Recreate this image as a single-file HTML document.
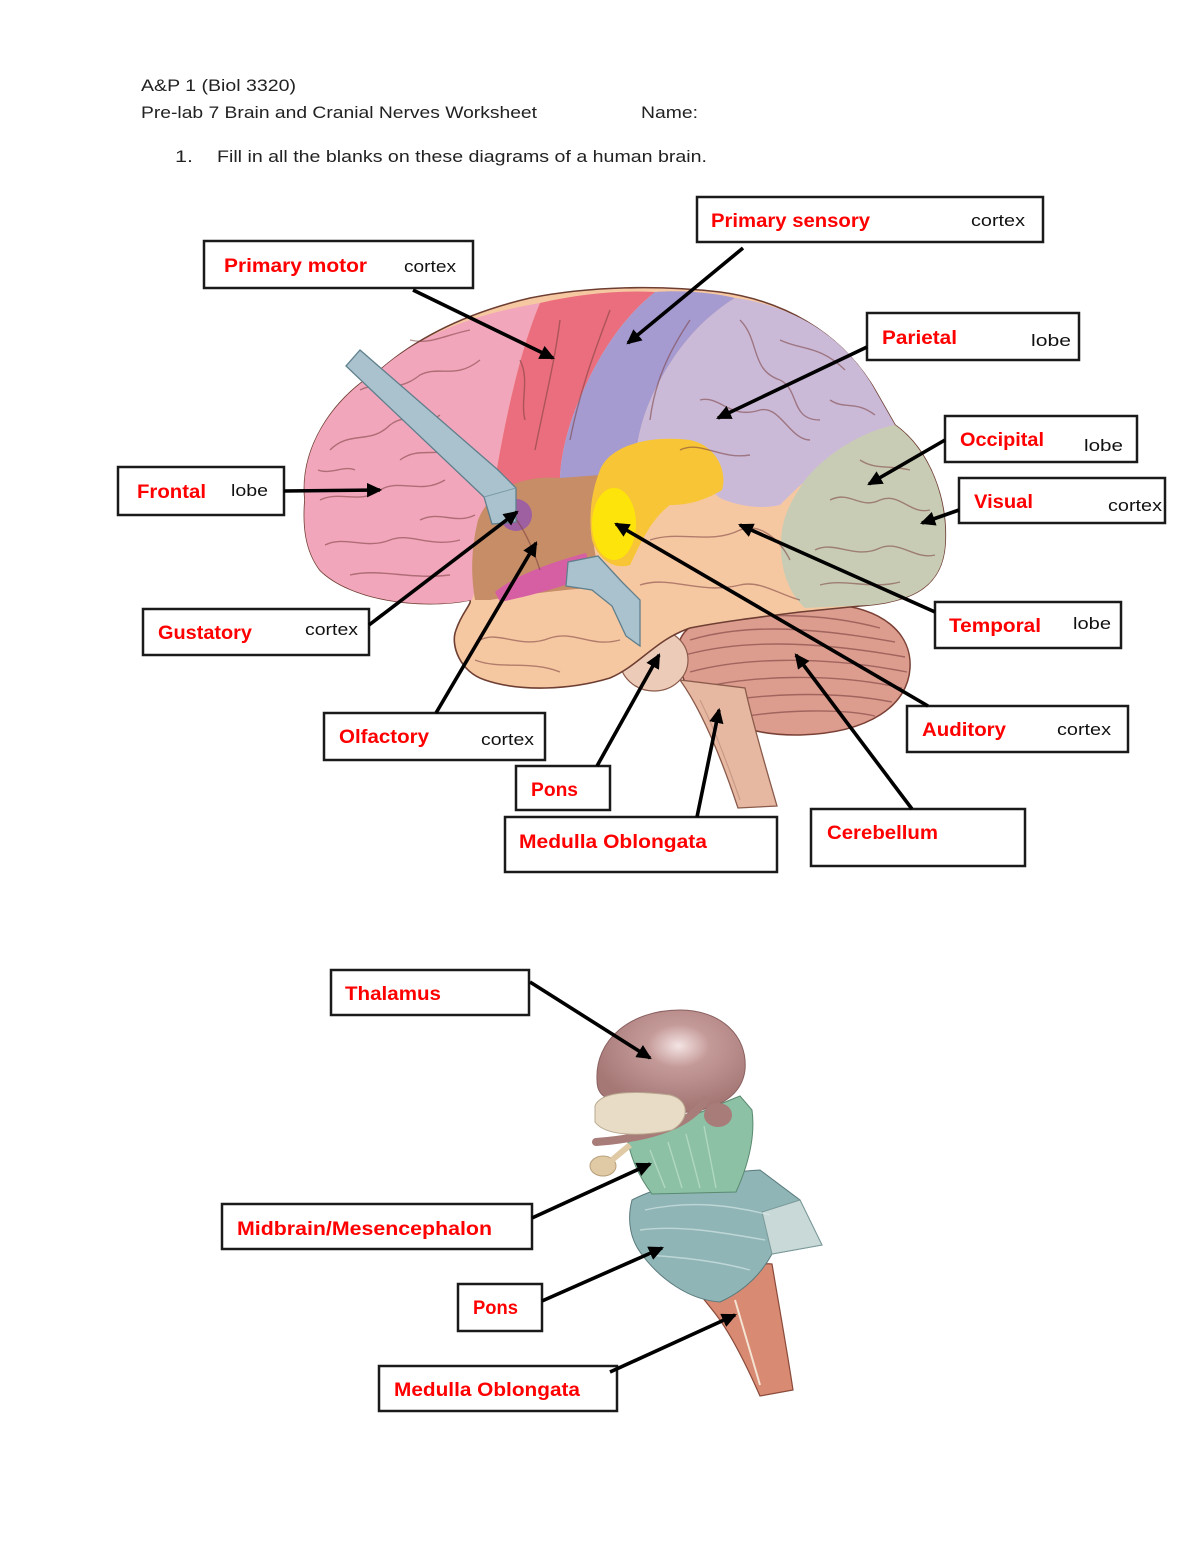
<!DOCTYPE html>
<html><head><meta charset="utf-8"><style>
html,body{margin:0;padding:0;background:#fff;}
svg{display:block;}
.h{font-family:"Liberation Sans",sans-serif;font-size:17px;fill:#222;}
.r{font-family:"Liberation Sans",sans-serif;font-size:19px;font-weight:bold;fill:#f00;}
.k{font-family:"Liberation Sans",sans-serif;font-size:17px;fill:#111;}
.box{fill:#fff;stroke:#1a1a1a;stroke-width:2.5;}
.ar{stroke:#000;stroke-width:3.6;fill:none;marker-end:url(#ah);}
.sul{fill:none;stroke:#7a3f3f;stroke-width:1.4;opacity:.55;}
</style></head><body>
<svg width="1200" height="1553" viewBox="0 0 1200 1553" xmlns="http://www.w3.org/2000/svg">
<defs>
<marker id="ah" markerWidth="4.2" markerHeight="4" refX="3.6" refY="2" orient="auto" markerUnits="strokeWidth">
<path d="M0,0 L4.2,2 L0,4 z" fill="#000"/>
</marker>
<radialGradient id="thg" cx="0.55" cy="0.35" r="0.6">
<stop offset="0" stop-color="#f4e4e4"/><stop offset="0.35" stop-color="#c49a98"/><stop offset="1" stop-color="#a57876"/>
</radialGradient>
</defs>

<!-- Header -->
<text class="h" x="141" y="91" textLength="155" lengthAdjust="spacingAndGlyphs">A&amp;P 1 (Biol 3320)</text>
<text class="h" x="141" y="118" textLength="396" lengthAdjust="spacingAndGlyphs">Pre-lab 7 Brain and Cranial Nerves Worksheet</text>
<text class="h" x="641" y="118" textLength="57" lengthAdjust="spacingAndGlyphs">Name:</text>
<text class="h" x="175" y="162" textLength="18" lengthAdjust="spacingAndGlyphs">1.</text>
<text class="h" x="217" y="162" textLength="490" lengthAdjust="spacingAndGlyphs">Fill in all the blanks on these diagrams of a human brain.</text>

<!-- ===== Brain (lateral view) ===== -->
<!-- cerebellum -->
<path d="M680,640 C690,612 760,600 830,604 C885,608 912,635 910,668 C908,705 870,733 800,735 C745,736 700,715 688,690 C680,672 676,655 680,640 Z" fill="#dc9c8e" stroke="#7a4035" stroke-width="1.5"/>
<g class="sul" style="opacity:.6">
<path d="M700,625 C750,612 820,612 880,628"/><path d="M690,640 C740,625 800,625 895,642"/><path d="M685,655 C740,640 810,640 905,657"/>
<path d="M690,672 C740,658 820,655 907,672"/><path d="M700,688 C750,676 830,672 902,688"/>
<path d="M715,703 C760,694 830,690 892,702"/><path d="M735,718 C780,710 840,708 875,716"/>
</g>
<!-- brainstem -->
<path d="M680,680 C698,705 718,748 738,808 L777,806 C765,765 752,720 745,688 Z" fill="#e6b8a2" stroke="#8a5a4a" stroke-width="1.3"/>
<path d="M700,700 C715,730 728,765 740,800" stroke="#c99a86" stroke-width="1.2" fill="none"/>
<!-- pons bulge -->
<ellipse cx="654" cy="660" rx="34" ry="31" fill="#ecccb8" stroke="#8a5a4a" stroke-width="1.2"/>

<!-- cerebrum base (temporal peach) -->
<path d="M305,500 C300,450 330,400 380,370 C420,335 470,312 530,298 C590,286 660,285 720,292 C780,300 840,330 875,390 L895,425 C930,450 948,500 945,545 C942,585 915,600 870,605 L800,612 C760,617 720,622 690,628 C655,640 640,665 610,678 C570,690 520,692 485,680 C460,672 450,645 456,630 C462,612 472,604 470,600 C420,610 350,600 320,570 C305,550 303,525 305,500 Z" fill="#f6c8a2" stroke="#6e3e32" stroke-width="1.6"/>
<!-- frontal -->
<path d="M305,500 C300,450 330,400 380,370 C420,335 470,315 540,303 C520,350 505,420 495,480 L490,520 C480,560 476,590 472,600 C420,610 350,600 320,570 C305,550 303,525 305,500 Z" fill="#f2a6bb"/>
<!-- motor -->
<path d="M540,303 C575,295 615,290 655,292 C620,320 595,360 575,410 C560,450 555,490 565,520 C545,540 520,545 500,540 L490,520 L495,480 C505,420 520,350 540,303 Z" fill="#ea6e7d"/>
<!-- sensory -->
<path d="M655,292 C680,290 710,292 735,298 C700,320 675,350 655,390 C640,420 630,460 640,490 C625,505 595,505 565,520 C555,490 560,450 575,410 C595,360 620,320 655,292 Z" fill="#a69bd1"/>
<!-- parietal -->
<path d="M735,298 C790,305 845,335 875,390 L895,425 C870,430 845,445 825,465 C805,480 790,495 780,505 C760,510 735,505 720,498 C700,480 670,470 640,490 C630,460 640,420 655,390 C675,350 700,320 735,298 Z" fill="#cbbad7"/>
<!-- occipital -->
<path d="M895,425 C930,450 948,500 945,545 C942,585 915,600 870,605 L805,608 C785,590 778,560 782,530 C785,510 795,495 805,480 C825,455 860,432 895,425 Z" fill="#c9ccb4"/>
<!-- insula brown -->
<path d="M478,520 C490,490 520,475 560,478 L600,475 C592,500 590,540 598,565 L590,588 C560,590 520,595 490,600 L475,600 C470,570 472,545 478,520 Z" fill="#c68d67"/>
<!-- auditory -->
<path d="M600,470 C610,445 650,435 690,440 C715,445 728,470 722,490 C705,500 690,505 670,505 C650,520 640,545 630,565 C615,570 598,560 592,540 C588,515 592,490 600,470 Z" fill="#f7c535"/>
<ellipse cx="614" cy="524" rx="22" ry="36" fill="#fde40a"/>
<!-- olfactory -->
<path d="M495,592 C520,572 560,560 586,553 L593,575 C566,586 530,596 500,602 Z" fill="#d65fa4"/>
<!-- gustatory -->
<circle cx="516" cy="515" r="16" fill="#9658aa" opacity=".85"/>

<!-- sulci texture -->
<g class="sul">
<path d="M330,450 C350,430 370,445 390,425 C410,410 420,430 440,415"/>
<path d="M320,500 C340,490 360,505 380,490 C400,478 420,495 445,480"/>
<path d="M325,545 C345,535 365,550 390,540 C410,532 430,548 460,540"/>
<path d="M360,390 C380,380 395,395 420,375 C440,365 455,380 480,360"/>
<path d="M400,460 C420,445 440,460 460,445"/>
<path d="M350,575 C380,568 410,580 450,575"/>
<path d="M318,470 C330,475 345,465 355,470"/>
<path d="M420,520 C440,510 455,525 475,515"/>
<path d="M410,340 C430,345 445,335 470,330"/>
<path d="M560,320 C555,360 545,400 535,450"/>
<path d="M610,310 C595,350 580,390 570,440"/>
<path d="M520,360 C530,380 520,400 525,420"/>
<path d="M690,320 C670,350 655,380 650,420"/>
<path d="M740,320 C760,340 750,370 780,380 C800,390 790,420 820,420"/>
<path d="M700,400 C720,395 730,420 760,410 C780,405 790,440 810,440"/>
<path d="M680,450 C700,440 720,460 750,455"/>
<path d="M780,340 C800,350 820,345 845,370"/>
<path d="M830,400 C845,410 855,400 875,415"/>
<path d="M830,500 C850,490 860,510 880,500 C900,492 910,515 930,510"/>
<path d="M815,550 C835,540 855,560 880,548 C900,540 915,560 935,555"/>
<path d="M860,460 C875,470 890,465 910,470"/>
<path d="M820,585 C845,578 870,590 900,582"/>
<path d="M650,540 C680,530 710,545 740,530 C760,522 780,540 790,560"/>
<path d="M640,585 C670,575 700,595 740,585 C760,580 780,595 800,600"/>
<path d="M480,640 C500,630 520,650 550,638 C575,630 590,648 620,640"/>
<path d="M475,660 C500,670 530,660 560,672"/>
<path d="M500,500 C520,520 530,540 540,570"/>
</g>

<!-- retractors -->
<path d="M360,350 L498,470 L516,488 L516,522 L492,524 L484,497 L346,366 Z" fill="#a9c2ce" stroke="#5f7f8c" stroke-width="1.3"/>
<path d="M484,497 L516,488" stroke="#7d9aa6" stroke-width="1"/>
<path d="M568,562 L598,556 L622,582 L640,600 L640,646 L626,636 L612,606 L592,590 L566,586 Z" fill="#a9c2ce" stroke="#5f7f8c" stroke-width="1.3"/>

<!-- ===== Lower brainstem figure ===== -->
<!-- medulla -->
<path d="M698,1292 C720,1276 758,1262 772,1264 C778,1300 787,1350 793,1390 L760,1396 C745,1362 730,1332 714,1312 Z" fill="#d98a72" stroke="#8a4a3a" stroke-width="1.2"/>
<path d="M735,1300 L760,1385" stroke="#f3e4d4" stroke-width="2" fill="none"/>
<!-- pons -->
<path d="M632,1200 C660,1185 720,1172 760,1170 L800,1200 L822,1245 L772,1254 C760,1276 742,1292 720,1302 C690,1300 660,1280 640,1252 C628,1235 628,1215 632,1200 Z" fill="#8fb5b7" stroke="#5a7a7c" stroke-width="1"/>
<path d="M762,1212 L800,1200 L822,1245 L772,1254 Z" fill="#c9d9d7" stroke="#7a9a9a" stroke-width="1"/>
<g class="sul" style="stroke:#dfeceb;opacity:.6">
<path d="M645,1210 C690,1200 730,1205 770,1215"/><path d="M640,1230 C680,1225 720,1232 765,1240"/><path d="M648,1255 C690,1258 720,1262 750,1270"/>
</g>
<!-- midbrain -->
<path d="M628,1142 C660,1130 700,1112 740,1096 L752,1110 C756,1140 746,1170 736,1192 L652,1194 C640,1178 632,1162 628,1142 Z" fill="#8cc1a5" stroke="#5a8a70" stroke-width="1"/>
<g class="sul" style="stroke:#c8e6d6;opacity:.6">
<path d="M650,1150 L665,1188"/><path d="M668,1142 L682,1188"/><path d="M686,1134 L700,1188"/><path d="M704,1126 L716,1188"/>
</g>
<!-- thalamus -->
<path d="M597,1080 C595,1040 630,1010 680,1010 C720,1010 748,1035 745,1070 C742,1095 720,1108 690,1112 C660,1114 630,1106 610,1100 C600,1095 597,1090 597,1080 Z" fill="url(#thg)" stroke="#8a6060" stroke-width="1"/>
<path d="M705,1100 C690,1125 650,1138 596,1142" stroke="#a87c78" stroke-width="8" fill="none" stroke-linecap="round"/>
<ellipse cx="718" cy="1115" rx="14" ry="12" fill="#a87c78"/>
<!-- pineal/cream -->
<path d="M595,1106 C600,1092 630,1090 670,1095 C690,1100 690,1120 672,1130 C640,1137 605,1136 595,1122 Z" fill="#e9dcc7" stroke="#b8a88f" stroke-width="1"/>
<ellipse cx="603" cy="1166" rx="13" ry="10" fill="#e0caa6" stroke="#b89f7a" stroke-width="1"/>
<path d="M612,1160 L630,1145" stroke="#e0caa6" stroke-width="6"/>

<!-- ===== Boxes ===== -->
<rect class="box" x="697" y="197" width="346" height="45"/>
<rect class="box" x="204" y="241" width="269" height="47"/>
<rect class="box" x="867" y="313" width="212" height="47"/>
<rect class="box" x="945" y="416" width="192" height="46"/>
<rect class="box" x="959" y="478" width="206" height="45"/>
<rect class="box" x="118" y="467" width="166" height="48"/>
<rect class="box" x="143" y="609" width="226" height="46"/>
<rect class="box" x="935" y="602" width="186" height="46"/>
<rect class="box" x="907" y="706" width="221" height="46"/>
<rect class="box" x="324" y="713" width="221" height="47"/>
<rect class="box" x="516" y="766" width="94" height="44"/>
<rect class="box" x="505" y="817" width="272" height="55"/>
<rect class="box" x="811" y="809" width="214" height="57"/>
<rect class="box" x="331" y="970" width="198" height="45"/>
<rect class="box" x="222" y="1204" width="310" height="45"/>
<rect class="box" x="458" y="1284" width="84" height="47"/>
<rect class="box" x="379" y="1366" width="238" height="45"/>

<!-- ===== Arrows ===== -->
<line class="ar" x1="743" y1="248" x2="628" y2="343"/>
<line class="ar" x1="413" y1="290" x2="553" y2="358"/>
<line class="ar" x1="867" y1="347" x2="718" y2="418"/>
<line class="ar" x1="945" y1="440" x2="869" y2="484"/>
<line class="ar" x1="959" y1="510" x2="922" y2="523"/>
<line class="ar" x1="284" y1="491" x2="380" y2="490"/>
<line class="ar" x1="369" y1="625" x2="517" y2="512"/>
<line class="ar" x1="935" y1="612" x2="740" y2="525"/>
<line class="ar" x1="928" y1="706" x2="616" y2="524"/>
<line class="ar" x1="436" y1="713" x2="536" y2="543"/>
<line class="ar" x1="597" y1="766" x2="659" y2="655"/>
<line class="ar" x1="697" y1="817" x2="719" y2="710"/>
<line class="ar" x1="912" y1="809" x2="796" y2="655"/>
<line class="ar" x1="530" y1="982" x2="650" y2="1058"/>
<line class="ar" x1="532" y1="1218" x2="650" y2="1164"/>
<line class="ar" x1="542" y1="1301" x2="662" y2="1248"/>
<line class="ar" x1="610" y1="1372" x2="735" y2="1315"/>

<!-- ===== Labels ===== -->
<text class="r" x="711" y="227" textLength="159" lengthAdjust="spacingAndGlyphs">Primary sensory</text>
<text class="k" x="971" y="226" textLength="54" lengthAdjust="spacingAndGlyphs">cortex</text>
<text class="r" x="224" y="272" textLength="143" lengthAdjust="spacingAndGlyphs">Primary motor</text>
<text class="k" x="404" y="272" textLength="52" lengthAdjust="spacingAndGlyphs">cortex</text>
<text class="r" x="882" y="344" textLength="75" lengthAdjust="spacingAndGlyphs">Parietal</text>
<text class="k" x="1031" y="346" textLength="40" lengthAdjust="spacingAndGlyphs">lobe</text>
<text class="r" x="960" y="446" textLength="84" lengthAdjust="spacingAndGlyphs">Occipital</text>
<text class="k" x="1084" y="451" textLength="39" lengthAdjust="spacingAndGlyphs">lobe</text>
<text class="r" x="974" y="508" textLength="59" lengthAdjust="spacingAndGlyphs">Visual</text>
<text class="k" x="1108" y="511" textLength="54" lengthAdjust="spacingAndGlyphs">cortex</text>
<text class="r" x="137" y="498" textLength="69" lengthAdjust="spacingAndGlyphs">Frontal</text>
<text class="k" x="231" y="496" textLength="37" lengthAdjust="spacingAndGlyphs">lobe</text>
<text class="r" x="158" y="639" textLength="94" lengthAdjust="spacingAndGlyphs">Gustatory</text>
<text class="k" x="305" y="635" textLength="53" lengthAdjust="spacingAndGlyphs">cortex</text>
<text class="r" x="949" y="632" textLength="92" lengthAdjust="spacingAndGlyphs">Temporal</text>
<text class="k" x="1073" y="629" textLength="38" lengthAdjust="spacingAndGlyphs">lobe</text>
<text class="r" x="922" y="736" textLength="84" lengthAdjust="spacingAndGlyphs">Auditory</text>
<text class="k" x="1057" y="735" textLength="54" lengthAdjust="spacingAndGlyphs">cortex</text>
<text class="r" x="339" y="743" textLength="90" lengthAdjust="spacingAndGlyphs">Olfactory</text>
<text class="k" x="481" y="745" textLength="53" lengthAdjust="spacingAndGlyphs">cortex</text>
<text class="r" x="531" y="796" textLength="47" lengthAdjust="spacingAndGlyphs">Pons</text>
<text class="r" x="519" y="848" textLength="188" lengthAdjust="spacingAndGlyphs">Medulla Oblongata</text>
<text class="r" x="827" y="839" textLength="111" lengthAdjust="spacingAndGlyphs">Cerebellum</text>
<text class="r" x="345" y="1000" textLength="96" lengthAdjust="spacingAndGlyphs">Thalamus</text>
<text class="r" x="237" y="1235" textLength="255" lengthAdjust="spacingAndGlyphs">Midbrain/Mesencephalon</text>
<text class="r" x="473" y="1314" textLength="45" lengthAdjust="spacingAndGlyphs">Pons</text>
<text class="r" x="394" y="1396" textLength="186" lengthAdjust="spacingAndGlyphs">Medulla Oblongata</text>
</svg>
</body></html>
